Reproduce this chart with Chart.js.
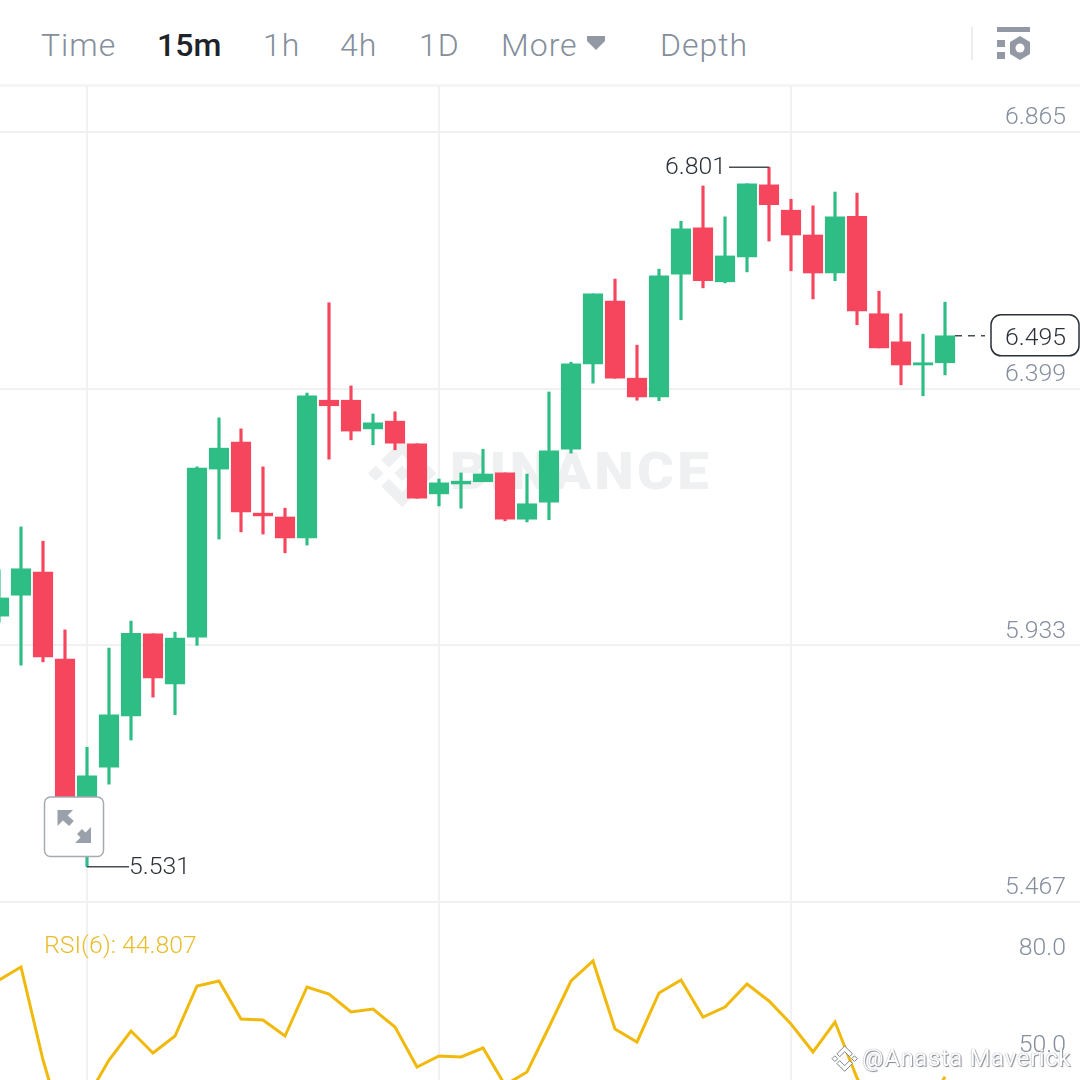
<!DOCTYPE html>
<html>
<head>
<meta charset="utf-8">
<script src="https://cdn.jsdelivr.net/npm/chart.js@4/dist/chart.umd.min.js"></script>
<style>
html,body{margin:0;padding:0;background:#fff;width:1080px;height:1080px;overflow:hidden;font-family:Roboto,sans-serif}
.tab{position:absolute;top:26px;font-size:32px;line-height:38px;color:#848e9c;white-space:nowrap;font-weight:300;letter-spacing:1px}
.tab.on{color:#1e2329;font-weight:500;letter-spacing:0}
canvas{position:absolute;left:0;z-index:2}
#wm{position:absolute;left:450px;top:442px;font:900 52px/60px Roboto,sans-serif;letter-spacing:3px;color:#eff0f1;z-index:1;transform-origin:left center;transform:scaleX(1.08)}
#credit{position:absolute;left:862px;top:1044px;font-size:24px;line-height:28px;color:#fff;letter-spacing:.6px;
 text-shadow:0 0 1px #6f7680,1px 1px 1px #8a8f96;z-index:5;white-space:nowrap}
svg{position:absolute;left:0;top:0}
</style>
</head>
<body>
<div class="tab" style="left:41px">Time</div>
<div class="tab on" style="left:157px">15m</div>
<div class="tab" style="left:263px">1h</div>
<div class="tab" style="left:340px">4h</div>
<div class="tab" style="left:419px">1D</div>
<div class="tab" style="left:501px">More</div>
<div class="tab" style="left:660px">Depth</div>
<div style="position:absolute;left:0;top:84px;width:1080px;height:3px;background:#f5f5f5"></div>
<div style="position:absolute;left:971px;top:27px;width:2px;height:33px;background:#eaecef"></div>

<svg width="1080" height="1080" style="z-index:1">
 <g transform="translate(368,439) scale(0.54)" fill="#eff0f1"><path d="M38.73 53.2l24.59-24.58 24.6 24.6 14.3-14.31L63.32 0 24.42 38.9zM0 63.31l14.3-14.31 14.31 14.31-14.31 14.3zM38.73 73.41l24.59 24.59 24.6-24.6 14.31 14.29-38.9 38.91-38.91-38.88-.02-.02zM98 63.31l14.3-14.31 14.31 14.3-14.31 14.32zM77.83 63.3L63.32 48.78 52.59 59.51l-1.24 1.23-2.54 2.54 14.51 14.5 14.51-14.47z"/></g>
</svg>
<div id="wm">BINANCE</div>

<canvas id="price" width="1080" height="817" style="top:86px"></canvas>
<canvas id="rsi" width="1080" height="178" style="top:902px"></canvas>

<svg width="1080" height="1080" style="z-index:4">
 <path d="M587 36h18v5l-9 9-9-9z" fill="#9299a4"/>
 <rect x="997" y="27" width="33" height="5" fill="#9299a4"/>
 <rect x="997" y="40" width="8" height="7" fill="#9299a4"/>
 <rect x="997" y="52" width="8" height="7" fill="#9299a4"/>
 <path d="M1020 36l10 6v12l-10 6-10-6V42z" fill="#9299a4"/>
 <circle cx="1020" cy="48" r="4.500" fill="#fff"/>
 <rect x="44.500" y="797" width="59" height="59.500" rx="6" fill="#fff" stroke="#a5abb3" stroke-width="1.500"/>
 <path d="M57.500 810H73L57.500 826z" fill="#9ba1ab"/>
 <path d="M62 815L71.500 823.500" stroke="#9ba1ab" stroke-width="7" fill="none"/>
 <path d="M91 843H75L91 827z" fill="#9ba1ab"/>
 <path d="M86 838L79.500 831.500" stroke="#9ba1ab" stroke-width="7" fill="none"/>
 <g transform="translate(832,1046) scale(0.2)" fill="#fff" stroke="#7d838b" stroke-width="5"><path d="M38.73 53.2l24.59-24.58 24.6 24.6 14.3-14.31L63.32 0 24.42 38.9zM0 63.31l14.3-14.31 14.31 14.31-14.31 14.3zM38.73 73.41l24.59 24.59 24.6-24.6 14.31 14.29-38.9 38.91-38.91-38.88-.02-.02zM98 63.31l14.3-14.31 14.31 14.3-14.31 14.32z"/></g>
</svg>
<div id="credit">@Anasta Maverick</div>

<script>
const opens  = [5.986,6.024,6.066,5.908,5.607,5.712,5.805,5.954,5.863,5.948,6.253,6.302,6.173,6.166,6.128,6.378,6.378,6.326,6.340,6.299,6.208,6.226,6.230,6.246,6.162,6.193,6.289,6.444,6.558,6.418,6.384,6.607,6.691,6.593,6.638,6.769,6.723,6.678,6.609,6.712,6.535,6.484,6.442,6.446];
const highs  = [6.070,6.148,6.122,5.961,5.748,5.928,5.977,5.954,5.957,6.257,6.346,6.326,6.257,6.182,6.391,6.555,6.404,6.353,6.357,6.299,6.235,6.246,6.289,6.246,6.244,6.393,6.447,6.571,6.598,6.478,6.616,6.703,6.767,6.711,6.771,6.801,6.743,6.731,6.756,6.754,6.576,6.535,6.498,6.556];
const lows   = [5.975,5.897,5.903,5.580,5.531,5.681,5.761,5.839,5.807,5.933,6.126,6.139,6.135,6.101,6.115,6.271,6.306,6.297,6.288,6.200,6.186,6.182,6.230,6.159,6.157,6.161,6.282,6.409,6.418,6.378,6.377,6.524,6.582,6.591,6.611,6.667,6.613,6.562,6.595,6.515,6.473,6.406,6.386,6.424];
const closes = [6.019,6.072,5.912,5.607,5.696,5.807,5.955,5.874,5.946,6.255,6.291,6.175,6.168,6.128,6.386,6.368,6.322,6.337,6.300,6.200,6.228,6.231,6.244,6.162,6.190,6.286,6.444,6.571,6.418,6.384,6.604,6.689,6.595,6.640,6.771,6.733,6.678,6.609,6.711,6.540,6.473,6.442,6.446,6.495];
const rsiValues = [74.74,78.77,50.00,27.00,38.20,50.00,58.97,52.17,57.42,72.89,74.44,62.68,62.37,57.42,72.58,70.41,64.85,65.77,60.21,47.83,51.24,50.93,53.71,42.27,46.29,60.21,74.44,80.62,59.59,55.57,70.72,74.74,63.30,66.39,73.51,68.25,61.14,52.47,61.75,44.43,32.99,28.35,32.99,44.807];
const priceTicks = [6.865,6.399,5.933,5.467];
const rsiTicks = [80,50];
const timeGridIndexes = [4,20,36];

const UP='#2ebd85', DOWN='#f6465d', GRID='#f0f1f3', LABEL='#848e9c', DARK='#2b3139', RSI='#f0b90b';
const xMin=0.0455, xMax=49.136;
const colors = closes.map((c,i)=> c>=opens[i] ? UP : DOWN);
const xScale = ()=>({type:'linear',min:xMin,max:xMax,offset:false,afterBuildTicks:s=>{s.ticks=timeGridIndexes.map(v=>({value:v}));},
  ticks:{display:false},grid:{color:GRID,lineWidth:2,drawTicks:false,offset:false},border:{display:false}});
const font={family:'Roboto',size:24.800,weight:300};
const flush = s=>{s.width=0;s.paddingTop=0;s.paddingBottom=0;};

const markers={id:'markers',afterDatasetsDraw(chart){
  const c=chart.ctx,x=chart.scales.x,y=chart.scales.y;
  const hi=Math.max(...highs),lo=Math.min(...lows),hiI=highs.indexOf(hi),loI=lows.indexOf(lo);
  const last=closes[closes.length-1];
  c.save();c.font='300 24.8px Roboto';c.textBaseline='middle';
  c.strokeStyle='#474d57';c.fillStyle=DARK;c.lineWidth=1.5;
  const hx=x.getPixelForValue(hiI),hy=y.getPixelForValue(hi);
  c.beginPath();c.moveTo(hx,hy);c.lineTo(hx-40,hy);c.stroke();
  c.textAlign='right';c.fillText(hi.toFixed(3),hx-43,hy+1);
  const lx=x.getPixelForValue(loI),ly=y.getPixelForValue(lo);
  c.beginPath();c.moveTo(lx,ly);c.lineTo(lx+42,ly);c.stroke();
  c.textAlign='left';c.fillText(lo.toFixed(3),lx+42,ly+1);
  const ex=x.getPixelForValue(closes.length-1),ey=y.getPixelForValue(last);
  c.setLineDash([7,6]);c.beginPath();c.moveTo(ex+10,ey);c.lineTo(ex+40,ey);c.stroke();c.setLineDash([]);
  c.fillStyle='#fff';c.strokeStyle='#2b3139';c.lineWidth=1.5;
  c.beginPath();c.roundRect(991,ey-21,88,41,10);c.fill();c.stroke();
  c.fillStyle=DARK;c.textAlign='right';c.fillText(last.toFixed(3),1066,ey+3);
  c.restore();
}};

new Chart(document.getElementById('price'),{
  type:'bar',
  data:{datasets:[
    {label:'body',data:opens.map((o,i)=>({x:i,y:[o,closes[i]]})),backgroundColor:colors,barThickness:19.500,grouped:false},
    {label:'wick',data:lows.map((l,i)=>({x:i,y:[l,highs[i]]})),backgroundColor:colors,barThickness:2.500,grouped:false}
  ]},
  options:{responsive:false,animation:false,layout:{autoPadding:false,padding:{bottom:1}},
    plugins:{legend:{display:false},tooltip:{enabled:false}},
    scales:{x:xScale(),
      y:{type:'linear',position:'right',min:5.467,max:6.9485,afterFit:flush,
        afterBuildTicks:s=>{s.ticks=priceTicks.map(v=>({value:v}));},
        ticks:{mirror:true,padding:-14,labelOffset:-14,color:LABEL,font,autoSkip:false,callback:v=>v.toFixed(3)},
        grid:{color:GRID,lineWidth:2,drawTicks:false},border:{display:false}}}
  },
  plugins:[markers]
});

const rsiLabel={id:'rsiLabel',afterDatasetsDraw(chart){
  const c=chart.ctx;c.save();c.font='300 24.8px Roboto';c.fillStyle='#e9bd2e';c.textBaseline='middle';c.textAlign='left';
  c.fillText('RSI(6): '+rsiValues[rsiValues.length-1].toFixed(3),44,45);c.restore();
}};
new Chart(document.getElementById('rsi'),{
  type:'line',
  data:{datasets:[{label:'RSI(6)',data:rsiValues.map((v,i)=>({x:i,y:v})),borderColor:RSI,borderWidth:3,pointRadius:0,tension:0,fill:false}]},
  options:{responsive:false,animation:false,layout:{autoPadding:false},
    plugins:{legend:{display:false},tooltip:{enabled:false}},
    scales:{x:xScale(),
      y:{type:'linear',position:'right',min:43.81,max:98.87,afterFit:flush,
        afterBuildTicks:s=>{s.ticks=rsiTicks.map(v=>({value:v}));},
        ticks:{mirror:true,padding:-14,labelOffset:-14,color:LABEL,font,autoSkip:false,callback:v=>v.toFixed(1)},
        grid:{display:false},border:{display:false}}}
  },
  plugins:[rsiLabel]
});
</script>
</body>
</html>
